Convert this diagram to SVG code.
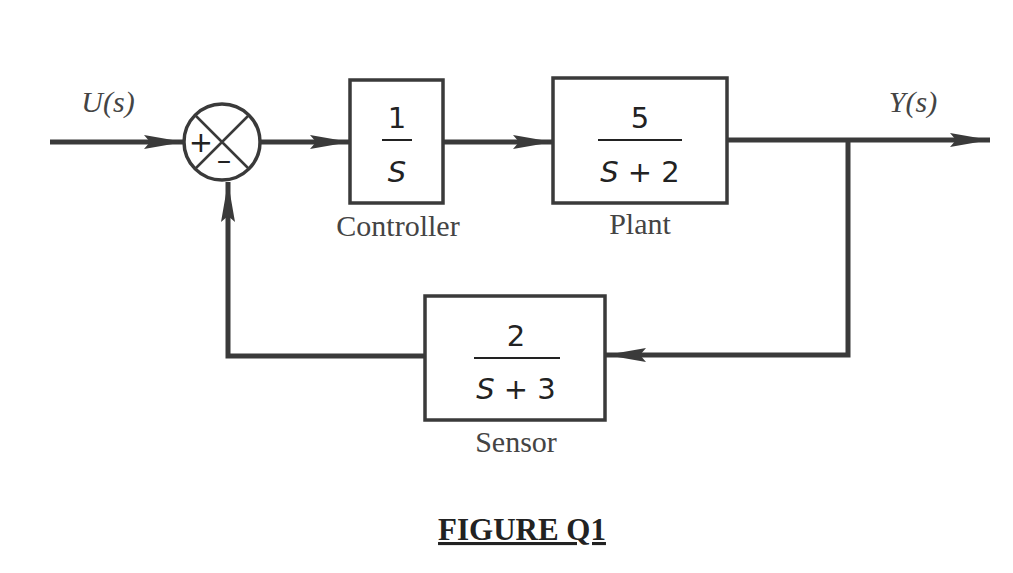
<svg xmlns="http://www.w3.org/2000/svg" width="1013" height="573" viewBox="0 0 1013 573">
<style>
.ln{stroke:#3a3a3a;stroke-width:5;fill:none}
.bx{stroke:#3a3a3a;stroke-width:3.5;fill:#fff}
.lb{font-family:"Liberation Serif",serif;font-size:30px;fill:#444}
.m{font-family:"DejaVu Sans",sans-serif;font-size:29px;fill:#222}
</style>
<defs>
<marker id="ar" viewBox="0 0 40 14" refX="40" refY="7" markerWidth="40" markerHeight="14" orient="auto" markerUnits="userSpaceOnUse"><path d="M0,0 L40,7 L0,14 L6,7 z" fill="#3a3a3a"/></marker></defs>
<rect width="1013" height="573" fill="#fff"/>
<g id="connectors">
<path class="ln" d="M50,142 H184" marker-end="url(#ar)"/>
<path class="ln" d="M261,142 H350" marker-end="url(#ar)"/>
<path class="ln" d="M443,142 H553" marker-end="url(#ar)"/>
<path class="ln" d="M727,140 H990" marker-end="url(#ar)"/>
<path class="ln" d="M848,140 V355 H606" marker-end="url(#ar)"/>
<path class="ln" d="M425,356 H228 V182" marker-end="url(#ar)"/>
</g>
<g id="sum">
<circle cx="222" cy="142" r="38" fill="#fff" stroke="#3a3a3a" stroke-width="3.5"/>
<path d="M195,115 L249,169 M249,115 L195,169" stroke="#3a3a3a" stroke-width="2.5"/>
<text x="201" y="152" class="m" font-size="22" text-anchor="middle">+</text>
<text x="224" y="170" class="m" font-size="22" text-anchor="middle">–</text>
</g>
<g id="controller">
<rect class="bx" x="350" y="80" width="93" height="123"/>
<text x="397" y="128" class="m" text-anchor="middle">1</text>
<line x1="382" y1="140" x2="412" y2="140" stroke="#222" stroke-width="2"/>
<text x="397" y="182" class="m" font-style="italic" text-anchor="middle">S</text>
<text x="398" y="236" class="lb" text-anchor="middle">Controller</text>
</g>
<g id="plant">
<rect class="bx" x="553" y="78" width="174" height="125"/>
<text x="640" y="128" class="m" text-anchor="middle">5</text>
<line x1="598" y1="140" x2="682" y2="140" stroke="#222" stroke-width="2"/>
<text x="640" y="182" class="m" text-anchor="middle"><tspan font-style="italic">S</tspan> + 2</text>
<text x="640" y="234" class="lb" text-anchor="middle">Plant</text>
</g>
<g id="sensor">
<rect class="bx" x="425" y="296" width="180" height="124"/>
<text x="516" y="346" class="m" text-anchor="middle">2</text>
<line x1="474" y1="358" x2="560" y2="358" stroke="#222" stroke-width="2"/>
<text x="516" y="399" class="m" text-anchor="middle"><tspan font-style="italic">S</tspan> + 3</text>
<text x="516" y="452" class="lb" text-anchor="middle">Sensor</text>
</g>
<text x="108" y="112" class="lb" font-style="italic" text-anchor="middle">U(s)</text>
<text x="913" y="112" class="lb" font-style="italic" text-anchor="middle">Y(s)</text>
<text x="522" y="540" font-family="Liberation Serif,serif" font-size="31" font-weight="bold" fill="#222" text-anchor="middle" text-decoration="underline">FIGURE Q1</text>
</svg>
